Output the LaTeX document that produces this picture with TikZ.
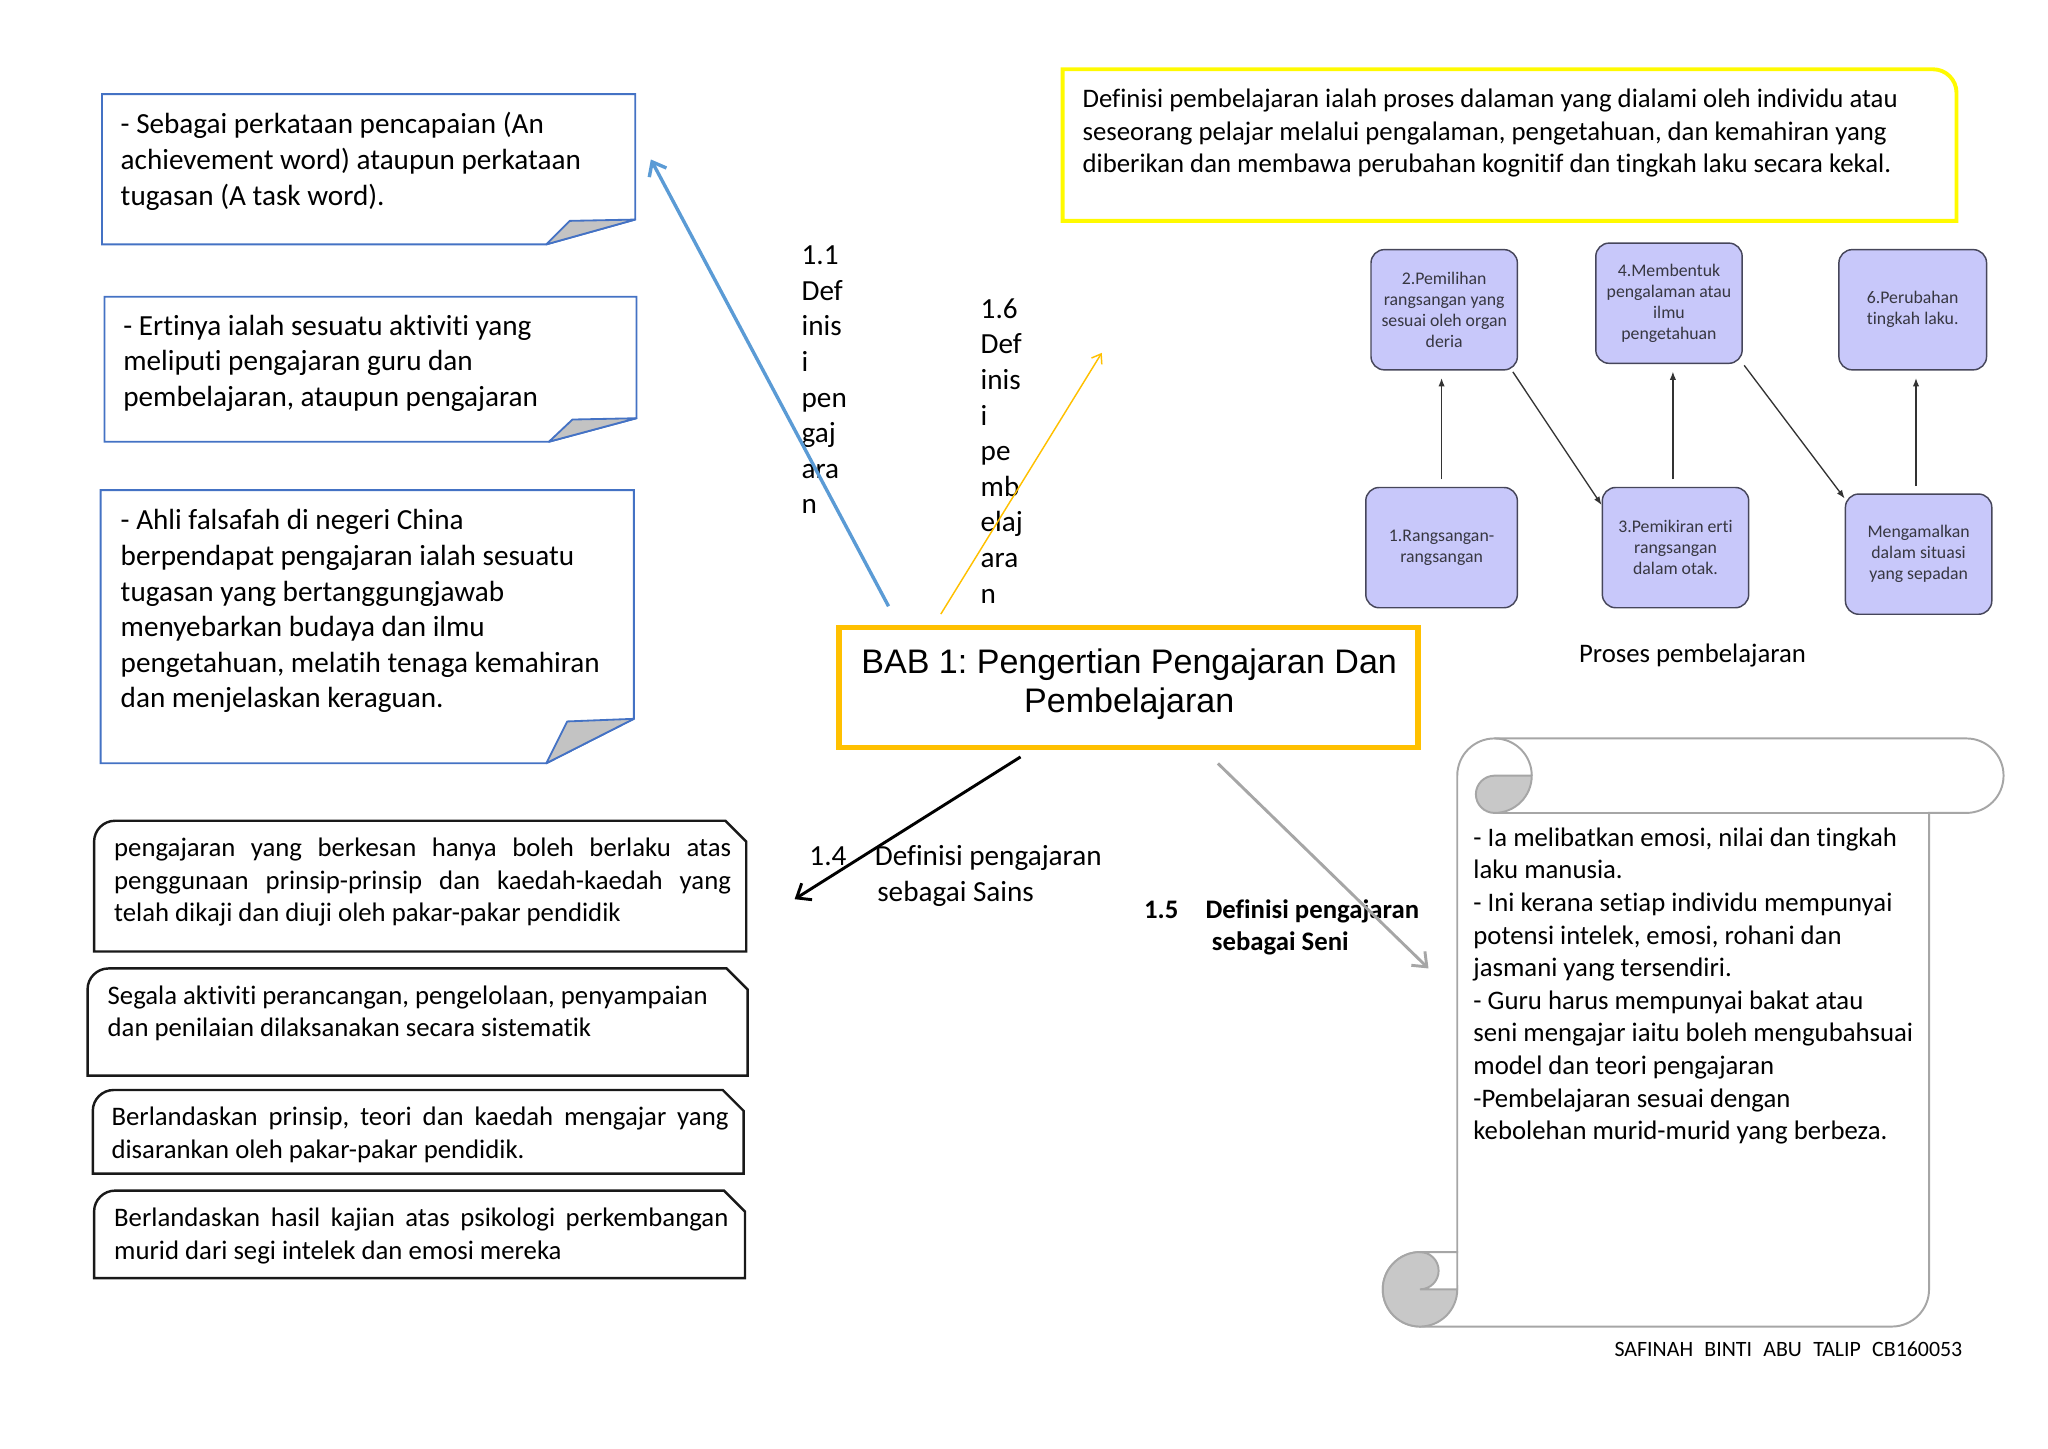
\documentclass[tikz,border=0pt]{standalone}
\usepackage{fontspec}
\setmainfont{Carlito}[Ligatures=CommonOff]
\newfontfamily\arialf{Liberation Sans}
\usetikzlibrary{arrows.meta,calc}
\definecolor{noteblue}{RGB}{68,114,196}
\definecolor{arrblue}{RGB}{91,155,213}
\definecolor{goldc}{RGB}{255,192,0}
\definecolor{yelc}{RGB}{255,250,0}
\definecolor{lavc}{RGB}{200,200,250}
\definecolor{pborder}{RGB}{70,70,90}
\definecolor{ptext}{RGB}{55,55,65}
\definecolor{scrgray}{RGB}{166,166,166}
\definecolor{curlgray}{RGB}{200,200,200}
\definecolor{foldgray}{RGB}{195,195,195}
\newcommand\pxl{0.5375pt}
\newcommand\fxii{\fontsize{12}{14.65}\selectfont}
\newcommand\fxi{\fontsize{11}{13.42}\selectfont}
\newcommand\tstrut{\rule{0pt}{1em}}
\frenchspacing
\begin{document}
\frenchspacing
\begin{tikzpicture}[x=0.5375pt,y=-0.5375pt,
  notebox/.style={draw=noteblue,line width=0.75pt,fill=white,line join=miter},
  foldpart/.style={draw=noteblue,line width=0.75pt,fill=foldgray,line join=round},
  snipbox/.style={draw=black!90,line width=1pt,fill=white},
  scrline/.style={draw=scrgray,line width=0.8pt},
  tt/.style={inner sep=0pt,anchor=north west,align=left,font=\fxii,yshift=10.9pt},
  te/.style={inner sep=0pt,anchor=north west,align=left,font=\fxi,yshift=9.9pt},
  pbox/.style={draw=pborder,fill=lavc,line width=0.6pt,rounded corners=5.5pt,
    align=center,inner sep=1pt,text=ptext,
    font=\fontsize{7.3}{8.7}\selectfont,
    minimum width=112*\pxl,minimum height=92*\pxl},
  parrow/.style={draw=black!80,line width=0.55pt,-{Latex[length=3.5pt,width=2.6pt]}},
  barb/.style={-{Straight Barb[length=5pt,width=8pt]}}
]
\useasboundingbox (0,0) rectangle (1567,1108);

% ---------- left note boxes ----------
\draw[notebox] (78,72) -- (486,72) -- (486,168) -- (418,187) -- (78,187) -- cycle;
\draw[foldpart] (418,187) -- (436,169) -- (486,168) -- cycle;
\node[tt] (na) at (92,100) {\tstrut- Sebagai perkataan pencapaian (An\\achievement word) ataupun perkataan\\tugasan (A task word).};

\draw[notebox] (80,227) -- (487,227) -- (487,320) -- (420,338) -- (80,338) -- cycle;
\draw[foldpart] (420,338) -- (438,321) -- (487,320) -- cycle;
\node[tt] (nb) at (94,254) {\tstrut- Ertinya ialah sesuatu aktiviti yang\\meliputi pengajaran guru dan\\pembelajaran, ataupun pengajaran};

\draw[notebox] (77,375) -- (485,375) -- (485,550) -- (418,584) -- (77,584) -- cycle;
\draw[foldpart] (418,584) -- (434,552) -- (485,550) -- cycle;
\node[tt] (nc) at (92,403) {\tstrut- Ahli falsafah di negeri China\\berpendapat pengajaran ialah sesuatu\\tugasan yang bertanggungjawab\\menyebarkan budaya dan ilmu\\pengetahuan, melatih tenaga kemahiran\\dan menjelaskan keraguan.};

% ---------- vertical labels ----------
\node[tt] (l11) at (613,200) {\tstrut 1.1\\Def\\inis\\i\\pen\\gaj\\ara\\n};
\node[tt] (l16) at (750,241) {\tstrut 1.6\\Def\\inis\\i\\pe\\mb\\elaj\\ara\\n};

% ---------- top yellow box ----------
\draw[draw=yelc,line width=1.6pt] (813,53) -- (1479,53) arc[start angle=-90,end angle=0,radius=18] -- (1497,169) -- (813,169) -- cycle;
\node[te] (ydef) at (828,80) {\tstrut Definisi pembelajaran ialah proses dalaman yang dialami oleh individu atau\\seseorang pelajar melalui pengalaman, pengetahuan, dan kemahiran yang\\diberikan dan membawa perubahan kognitif dan tingkah laku secara kekal.};

% ---------- title ----------
\node[draw=goldc,line width=2.3pt,minimum width=443*\pxl,minimum height=92*\pxl,inner sep=0pt] (title) at (863.5,526) {};
\node[inner sep=0pt,anchor=north,align=center,yshift=14pt,font=\arialf\fontsize{14}{16.1}\selectfont] (titletxt) at (864,515) {\tstrut BAB 1: Pengertian Pengajaran Dan\\Pembelajaran};

% ---------- process boxes ----------
\node[pbox] (p2) at (1105,237) {2.Pemilihan\\rangsangan yang\\sesuai oleh organ\\deria};
\node[pbox] (p4) at (1277,232) {4.Membentuk\\pengalaman atau\\ilmu\\pengetahuan};
\node[pbox,minimum width=113*\pxl] (p6) at (1463.5,237) {6.Perubahan\\tingkah laku.};
\node[pbox,minimum width=116*\pxl] (p1) at (1103,419) {1.Rangsangan-\\rangsangan};
\node[pbox] (p3) at (1282,419) {3.Pemikiran erti\\rangsangan\\dalam otak.};
\node[pbox] (p5) at (1468,424) {Mengamalkan\\dalam situasi\\yang sepadan};

\draw[parrow,shorten <=3pt,shorten >=3pt] (p1.north) -- (p1.north |- p2.south);
\draw[parrow] ($(p2.south east)+(-4,1)$) -- ($(p3.north west)+(0,14)$);
\draw[parrow,shorten <=3pt,shorten >=3pt] ($(p3.north)+(-2,0)$) -- ($(p3.north |- p4.south)+(-2,0)$);
\draw[parrow] ($(p4.south east)+(1,1)$) -- ($(p5.north west)+(0,4)$);
\draw[parrow,shorten <=3pt,shorten >=3pt] ($(p5.north)+(-2,0)$) -- ($(p5.north |- p6.south)+(-2,0)$);

\node[inner sep=0pt,anchor=base,font=\fxi] (proses) at (1295,507) {Proses pembelajaran};

% ---------- scroll ----------
\draw[scrline,fill=white] (1115,593.5) arc[start angle=180,end angle=270,radius=28.5] -- (1504.5,565) arc[start angle=270,end angle=450,radius=28.5] -- (1476,622) -- (1476,986.5) arc[start angle=0,end angle=90,radius=28.5] -- (1086.5,1015) arc[start angle=90,end angle=270,radius=28.5] -- (1115,958) -- cycle;
\draw[scrline] (1143.5,622) -- (1476,622);
\draw[scrline] (1143.5,565) arc[start angle=270,end angle=360,radius=28.5];
\draw[scrline,fill=curlgray] (1143.5,593.5) -- (1172,593.5) arc[start angle=0,end angle=90,radius=28.5] arc[start angle=90,end angle=270,radius=14.25] -- cycle;
\draw[scrline,fill=curlgray] (1086.5,986.5) circle[radius=28.5];
\draw[scrline,fill=white] (1086.5,958) -- (1115,958) -- (1115,986.5) -- (1086.5,986.5) arc[start angle=90,end angle=-90,radius=14.25] -- cycle;
\node[te] (seni) at (1127,645) {\tstrut- Ia melibatkan emosi, nilai dan tingkah\\laku manusia.\\- Ini kerana setiap individu mempunyai\\potensi intelek, emosi, rohani dan\\jasmani yang tersendiri.\\- Guru harus mempunyai bakat atau\\seni mengajar iaitu boleh mengubahsuai\\model dan teori pengajaran\\-Pembelajaran sesuai dengan\\kebolehan murid-murid yang berbeza.};

% ---------- bottom-left boxes ----------
\draw[snipbox] (72,728) -- (72,644) arc[start angle=180,end angle=270,radius=16] -- (555,628) -- (571,644) -- (571,728) -- cycle;
\node[te] (sa) at (87,653) {\tstrut\makebox[253.7pt][s]{pengajaran yang berkesan hanya boleh berlaku atas}\\\makebox[253.7pt][s]{penggunaan prinsip-prinsip dan kaedah-kaedah yang}\\telah dikaji dan diuji oleh pakar-pakar pendidik};

\draw[snipbox] (67,823) -- (67,757) arc[start angle=180,end angle=270,radius=16] -- (556,741) -- (572,757) -- (572,823) -- cycle;
\node[te] (sb) at (82,766) {\tstrut Segala aktiviti perancangan, pengelolaan, penyampaian\\dan penilaian dilaksanakan secara sistematik};

\draw[snipbox] (71,898) -- (71,850) arc[start angle=180,end angle=270,radius=16] -- (553,834) -- (569,850) -- (569,898) -- cycle;
\node[te] (sc) at (85,859) {\tstrut\makebox[253.7pt][s]{Berlandaskan prinsip, teori dan kaedah mengajar yang}\\disarankan oleh pakar-pakar pendidik.};

\draw[snipbox] (72,978) -- (72,927) arc[start angle=180,end angle=270,radius=16] -- (554,911) -- (570,927) -- (570,978) -- cycle;
\node[te] (sd) at (87,936) {\tstrut\makebox[252.6pt][s]{Berlandaskan hasil kajian atas psikologi perkembangan}\\murid dari segi intelek dan emosi mereka};

% ---------- branch labels ----------
\node[tt] (l14) at (619,660) {\tstrut\makebox[26.9pt][l]{1.4}Definisi pengajaran\\\hspace*{27.9pt}sebagai Sains};
\node[te,font=\fxi\bfseries] (l15) at (875,700) {\tstrut\makebox[25.3pt][l]{1.5}Definisi pengajaran\\\hspace*{27.9pt}sebagai Seni};

% ---------- connectors ----------
\coordinate (b1s) at ($(title.north west)+(40,-14)$);
\coordinate (b1e) at (498,122);
\draw[arrblue,line width=1.4pt,barb] (b1s) -- (b1e);
\coordinate (y1s) at ($(title.north west)+(80,-8)$);
\coordinate (y1e) at (843,270);
\draw[goldc,line width=0.6pt,-{Straight Barb[length=3.5pt,width=5pt]}] (y1s) -- (y1e);
\coordinate (k1s) at ($(title.south west)+(141,5)$);
\coordinate (k1e) at (608,688);
\draw[black,line width=1.2pt,barb] (k1s) -- (k1e);
\coordinate (g1s) at ($(title.south west)+(292,10)$);
\coordinate (g1e) at (1093,741);
\draw[scrgray,line width=1.2pt,barb] (g1s) -- (g1e);

% ---------- footer ----------
\node[inner sep=0pt,anchor=base west,font=\fontsize{9}{11}\selectfont] (author) at (1235,1038) {\makebox[143pt][s]{SAFINAH BINTI ABU TALIP CB160053}};
\end{tikzpicture}
\end{document}
